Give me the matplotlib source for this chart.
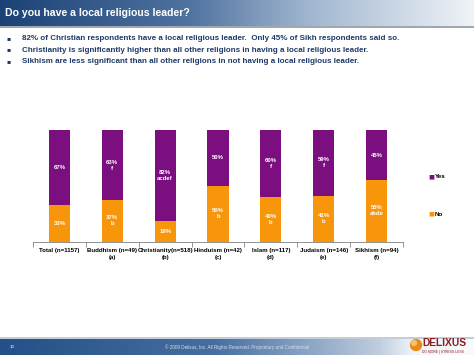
import numpy as np
import matplotlib
matplotlib.use("Agg")
import matplotlib.pyplot as plt
from matplotlib.patches import Circle

plt.rcParams['font.family'] = ['Liberation Sans', 'DejaVu Sans']

# datos del grafico
categorias = ['Total (n=1157)', 'Buddhism (n=49)\n(a)', 'Christianity(n=518)\n(b)',
              'Hinduism (n=42)\n(c)', 'Islam (n=117)\n(d)', 'Judaism (n=146)\n(e)',
              'Sikhism (n=94)\n(f)']
no_vals = [33, 37, 18, 50, 40, 41, 55]
yes_vals = [67, 63, 82, 50, 60, 59, 45]
no_letras = ['', 'b', '', 'b', 'b', 'b', 'abde']
yes_letras = ['', 'f', 'acdef', '', 'f', 'f', '']

titulo = 'Do you have a local religious leader?'
bullets = [
    '82% of Christian respondents have a local religious leader.  Only 45% of Sikh respondents said so.',
    'Christianity is significantly higher than all other religions in having a local religious leader.',
    'Sikhism are less significant than all other religions in not having a local religious leader.',
]

morado = '#7b0f7f'
naranja = '#f7960a'
azul_texto = '#1f3a68'

W, H = 474, 355
fig = plt.figure(figsize=(W / 100, H / 100), dpi=100)

# fondo: cabecera y pie con degradado
bg = fig.add_axes([0, 0, 1, 1])
bg.set_xlim(0, W)
bg.set_ylim(H, 0)
bg.axis('off')


def degradado(stops, n=474):
    xs = np.linspace(0, 1, n)
    pos = [s[0] for s in stops]
    cols = np.array([s[1] for s in stops]) / 255.0
    img = np.stack([np.interp(xs, pos, cols[:, k]) for k in range(3)], axis=-1)
    return img[np.newaxis, :, :]


cab = degradado([(0, (27, 66, 118)), (0.4, (80, 115, 160)), (0.65, (160, 182, 207)),
                 (1, (240, 243, 247))])
bg.imshow(cab, extent=(0, W, 26, 0), aspect='auto')
bg.plot([0, W], [26.5, 26.5], color='#8c96a0', lw=1.2)

pie = degradado([(0, (35, 80, 135)), (0.45, (70, 110, 160)), (0.8, (190, 205, 222)),
                 (0.87, (240, 243, 247)), (1, (250, 250, 252))])
bg.imshow(pie, extent=(0, W, H, 339), aspect='auto')
bg.plot([0, W], [338, 338], color='#b8c4d2', lw=1.2)

fig.text(5 / W, 1 - 13 / H, titulo, color='white', fontsize=7.6, fontweight='bold',
         va='center', ha='left')

for i, b in enumerate(bullets):
    y = [38.5, 50, 61.5][i]
    fig.text(6 / W, 1 - y / H, '▪', color=azul_texto, fontsize=4.5, va='center',
             family=['DejaVu Sans'])
    fig.text(22 / W, 1 - y / H, b, color=azul_texto, fontsize=5.75, fontweight='bold',
             va='center', ha='left')

fig.text(10 / W, 1 - 347 / H, '10', color='white', fontsize=3.2, va='center')
fig.text(237 / W, 1 - 347 / H, '© 2009 Delixus, Inc. All Rights Reserved. Proprietary and Confidential',
         color='#d6dfea', fontsize=3.3, va='center', ha='center')

bg.add_patch(Circle((416, 345), 5.5, color='#e68a1a', zorder=3))
bg.add_patch(Circle((414, 343), 2.5, color='#f6c070', zorder=4))
fig.text(422 / W, 1 - 343 / H, 'DELIXUS', color='#8a1d1d', fontsize=7.4,
         fontweight='bold', va='center', ha='left')
fig.text(422 / W, 1 - 351.5 / H, 'DO MORE | STRESS LESS', color='#8a1d1d', fontsize=2.4,
         va='center', ha='left')

# grafico de barras
ax = fig.add_axes([33 / W, 1 - 241.5 / H, 370 / W, 111.5 / H])
x = np.arange(len(categorias))
ax.bar(x, no_vals, width=0.4, color=naranja)
ax.bar(x, yes_vals, width=0.4, bottom=no_vals, color=morado)

for i in x:
    t = f'{no_vals[i]}%' + (f'\n{no_letras[i]}' if no_letras[i] else '')
    ax.text(i, no_vals[i] / 2, t, color='white', fontsize=4.3, fontweight='bold',
            ha='center', va='center', linespacing=1.3)
    t = f'{yes_vals[i]}%' + (f'\n{yes_letras[i]}' if yes_letras[i] else '')
    ax.text(i, no_vals[i] + yes_vals[i] / 2, t, color='white', fontsize=4.3,
            fontweight='bold', ha='center', va='center', linespacing=1.3)

ax.set_xlim(-0.5, len(categorias) - 0.5)
ax.set_ylim(0, 100)
ax.set_xticks(x)
ax.set_xticklabels(categorias, fontsize=4.4, fontweight='bold', linespacing=1.3)
ax.tick_params(axis='x', which='major', length=0, pad=5)
ax.set_xticks(np.arange(-0.5, len(categorias)), minor=True)
ax.tick_params(axis='x', which='minor', length=3.5, width=0.6, color='#808080')
ax.set_yticks([])
for s in ['top', 'right', 'left']:
    ax.spines[s].set_visible(False)
ax.spines['bottom'].set_color('#808080')
ax.spines['bottom'].set_linewidth(0.6)
ax.patch.set_alpha(0)

# leyenda
for etiqueta, col, y in [('Yes', morado, 177), ('No', naranja, 214)]:
    fig.text(428 / W, 1 - y / H, '■', color=col, fontsize=4.5, va='center',
             family=['DejaVu Sans'])
    fig.text(435 / W, 1 - y / H, etiqueta, color='black', fontsize=4.5,
             fontweight='bold', va='center')

fig.savefig('out.png', dpi=100)
